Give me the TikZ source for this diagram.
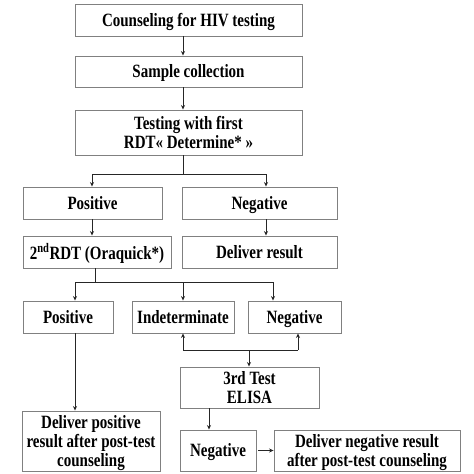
\documentclass[tikz,border=0pt]{standalone}
\usepackage{fontspec}
\setmainfont{Liberation Serif}
\usetikzlibrary{arrows.meta}
\newcommand\bxtext[1]{\raisebox{-2.5pt}[\height][\depth]{\scalebox{1}[1.25]{\fontsize{15}{15.2}\selectfont\bfseries\begin{tabular}{@{}c@{}}#1\end{tabular}}}}
\begin{document}
\begin{tikzpicture}[x=1pt,y=-1pt,
  box/.style={draw=black!50, line width=0.9pt, fill=white, align=center, inner sep=0pt},
  arr/.style={draw=black!85, line width=1pt, -{Stealth[length=4.5pt,width=4pt]}},
  ln/.style={draw=black!85, line width=1pt}]
\useasboundingbox (0,0) rectangle (474,474);
\fill[white] (0,0) rectangle (474,474);
% boxes: center and size
\node[box, minimum width=227pt, minimum height=32pt] (b1) at (188.5,20) {\bxtext{Counseling for HIV testing}};
\node[box, minimum width=227pt, minimum height=31pt] (b2) at (188.5,71.5) {\bxtext{Sample collection}};
\node[box, minimum width=227pt, minimum height=45pt] (b3) at (188.5,132.5) {\bxtext{Testing with first\\RDT« Determine* »}};
\node[box, minimum width=139pt, minimum height=32pt] (pos1) at (92.5,203) {\bxtext{Positive}};
\node[box, minimum width=155pt, minimum height=32pt] (neg1) at (259.5,203) {\bxtext{Negative}};
\node[box, minimum width=148pt, minimum height=32pt] (rdt2) at (97,252) {\bxtext{2\textsuperscript{nd}RDT (Oraquick*)}};
\node[box, minimum width=155pt, minimum height=32pt] (dres) at (259.5,252) {\bxtext{Deliver result}};
\node[box, minimum width=90pt, minimum height=32pt] (pos2) at (68,317) {\bxtext{Positive}};
\node[box, minimum width=102pt, minimum height=32pt] (ind) at (183,317) {\bxtext{Indeterminate}};
\node[box, minimum width=93pt, minimum height=32pt] (neg2) at (294.5,317) {\bxtext{Negative}};
\node[box, minimum width=139pt, minimum height=41pt] (t3) at (249.5,387.5) {\bxtext{3rd Test\\ELISA}};
\node[box, minimum width=76pt, minimum height=41pt] (neg3) at (218,450.5) {\bxtext{Negative}};
\node[box, minimum width=186pt, minimum height=41pt] (dneg) at (367,450.5) {\bxtext{Deliver negative result\\after post-test counseling}};
\node[box, minimum width=138pt, minimum height=60pt] (dpos) at (91,441) {\bxtext{Deliver positive\\result after post-test\\counseling}};
% junction coordinates
\coordinate (x1) at (183,0);
\coordinate (j1) at (183,174);
\coordinate (j1l) at (92,174);
\coordinate (j1r) at (266,174);
\coordinate (j2) at (95,282);
\coordinate (j2l) at (75,282);
\coordinate (j2m) at (183,282);
\coordinate (j2r) at (273,282);
\coordinate (j3l) at (183,350);
\coordinate (j3r) at (298,350);
\coordinate (j3m) at (249,350);
\coordinate (x4) at (209,0);
% connectors
\draw[arr] (b1.south -| x1) -- (b2.north -| x1);
\draw[arr] (b2.south -| x1) -- (b3.north -| x1);
\draw[ln] (b3.south -| j1) -- (j1);
\draw[ln] (j1l) -- (j1r);
\draw[arr] (j1l) -- (pos1.north -| j1l);
\draw[arr] (j1r) -- (neg1.north -| j1r);
\draw[arr] (pos1.south -| j1l) -- (rdt2.north -| j1l);
\draw[arr] (neg1.south -| j1r) -- (dres.north -| j1r);
\draw[ln] (rdt2.south -| j2) -- (j2);
\draw[ln] (j2l) -- (j2r);
\draw[arr] (j2l) -- (pos2.north -| j2l);
\draw[arr] (j2m) -- (ind.north -| j2m);
\draw[arr] (j2r) -- (neg2.north -| j2r);
\draw[ln] (j3l) -- (j3r);
\draw[arr] (j3l) -- (ind.south -| j3l);
\draw[arr] (j3r) -- (neg2.south -| j3r);
\draw[arr] (j3m) -- (t3.north -| j3m);
\draw[arr] (t3.south -| x4) -- (neg3.north -| x4);
\draw[arr] ([xshift=2pt]neg3.east) -- (dneg.west);
\draw[arr] (pos2.south -| j2l) -- (dpos.north -| j2l);
\end{tikzpicture}
\end{document}
